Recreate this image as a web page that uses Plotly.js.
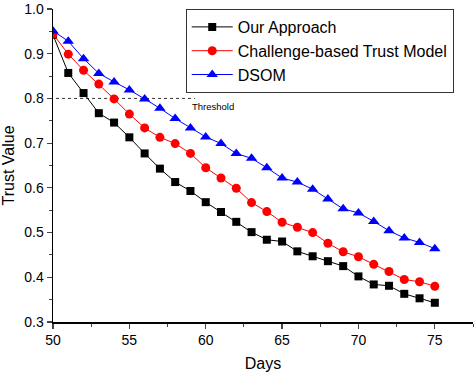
<!DOCTYPE html>
<html><head><meta charset="utf-8">
<script src="https://cdn.plot.ly/plotly-3.0.1.min.js"></script>
<style>html,body{margin:0;padding:0;background:#fff}#c{width:474px;height:372px}</style>
</head><body><div id="c"></div>
<script>
const days = [50,51,52,53,54,55,56,57,58,59,60,61,62,63,64,65,66,67,68,69,70,71,72,73,74,75];
const ourApproach = [0.942,0.857,0.812,0.767,0.746,0.713,0.677,0.643,0.613,0.593,0.568,0.546,0.524,0.501,0.484,0.480,0.458,0.447,0.436,0.425,0.402,0.384,0.381,0.363,0.353,0.343];
const challengeBased = [0.944,0.899,0.863,0.832,0.799,0.765,0.734,0.713,0.699,0.677,0.645,0.622,0.599,0.567,0.547,0.523,0.512,0.500,0.476,0.457,0.446,0.429,0.413,0.395,0.390,0.380];
const dsom = [0.951,0.928,0.889,0.856,0.837,0.819,0.799,0.778,0.755,0.734,0.714,0.699,0.677,0.666,0.645,0.622,0.613,0.597,0.575,0.553,0.544,0.525,0.504,0.488,0.478,0.464];
const thresholdX = [50.2, 59.3];
const thresholdY = [0.8, 0.8];
const seriesNames = ['Our Approach','Challenge-based Trust Model','DSOM'];

const font = 'Liberation Sans, Arial, sans-serif';
const traces = [
  {x: thresholdX, y: thresholdY, mode:'lines', line:{color:'#333', width:1, dash:'dot'}, showlegend:false, hoverinfo:'skip'},
  {x: days, y: ourApproach, name: seriesNames[0], mode:'lines+markers', line:{color:'#000', width:1}, marker:{symbol:'square', size:8, color:'#000'}},
  {x: days, y: challengeBased, name: seriesNames[1], mode:'lines+markers', line:{color:'#ff0000', width:1}, marker:{symbol:'circle', size:9, color:'#ff0000'}},
  {x: days, y: dsom, name: seriesNames[2], mode:'lines+markers', line:{color:'#0000ff', width:1}, marker:{symbol:'triangle-up', size:10, color:'#0000ff'}}
];
const layout = {
  width:474, height:372,
  margin:{l:53, r:1, t:9, b:50},
  paper_bgcolor:'#fff', plot_bgcolor:'#fff',
  font:{family:font, color:'#000', size:14},
  showlegend:true,
  legend:{x:0.316, y:1, xanchor:'left', yanchor:'top', bordercolor:'#333', borderwidth:1, bgcolor:'#fff',
          font:{family:font, size:16}, tracegroupgap:0, itemwidth:41},
  xaxis:{range:[50,77.5], tickmode:'linear', tick0:50, dtick:5, ticks:'outside', ticklen:5, tickwidth:1.2,
         showline:true, linecolor:'#000', linewidth:1.5, showgrid:false, zeroline:false,
         minor:{ticks:'outside', dtick:2.5, ticklen:3, tickwidth:1},
         tickfont:{size:14}, title:{text:'Days', font:{size:16}, standoff:14}},
  yaxis:{range:[0.3,1.0], tickmode:'linear', tick0:0.3, dtick:0.1, tickformat:'.1f', ticks:'outside', ticklen:5, tickwidth:1.2,
         showline:true, linecolor:'#000', linewidth:1.5, showgrid:false, zeroline:false,
         minor:{ticks:'outside', dtick:0.05, ticklen:3, tickwidth:1},
         tickfont:{size:14}, title:{text:'Trust Value', font:{size:16}, standoff:8}},
  annotations:[{x:59.0, y:0.781, xref:'x', yref:'y', text:'Threshold', showarrow:false, xanchor:'left', yanchor:'middle', font:{size:9.5, color:'#000'}}]
};
Plotly.newPlot('c', traces, layout, {displayModeBar:false, staticPlot:true});
</script></body></html>
